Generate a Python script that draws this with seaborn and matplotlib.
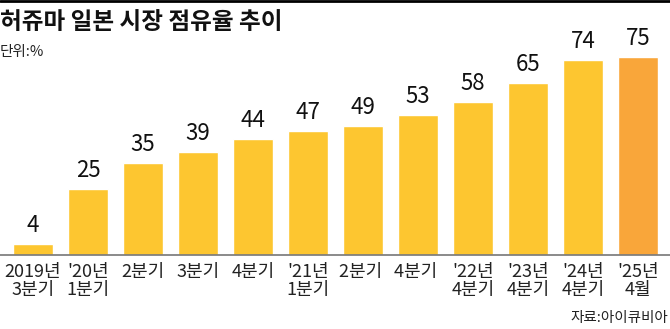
import matplotlib
matplotlib.use("Agg")
import matplotlib.pyplot as plt
import seaborn as sns
import pandas as pd
from matplotlib.lines import Line2D

categories = ["2019년\n3분기", "'20년\n1분기", "2분기", "3분기", "4분기", "'21년\n1분기",
              "2분기 ", "4분기 ", "'22년\n4분기", "'23년\n4분기", "'24년\n4분기", "'25년\n4월"]
values = [4, 25, 35, 39, 44, 47, 49, 53, 58, 65, 74, 75]
colors = ["#FDC630"] * 11 + ["#F9A63A"]

sns.set_theme(style="white")
plt.rcParams['font.family'] = ['Liberation Sans Narrow', 'Noto Sans CJK KR', 'DejaVu Sans']

df = pd.DataFrame({"cat": categories, "val": values})

fig = plt.figure(figsize=(6.7, 3.29), dpi=100)
ax = fig.add_axes([0, 74/329, 1, 1 - 74/329 - 20/329])
sns.barplot(data=df, x="cat", y="val", hue="cat", palette=colors, legend=False,
            width=0.73, ax=ax, saturation=1)
ax.set_xlim(-0.6, 11.58)
ax.set_ylim(0, 89)
for s in ["top", "right", "left"]:
    ax.spines[s].set_visible(False)
ax.spines["bottom"].set_color("#777777")
ax.spines["bottom"].set_linewidth(1.2)
ax.set_yticks([])
ax.set_xlabel("")
ax.set_ylabel("")
ax.tick_params(axis="x", length=0, pad=6, labelsize=13, colors="#222222")
for lab in ax.get_xticklabels():
    lab.set_linespacing(1.0)

for i, v in enumerate(values):
    ax.annotate(str(v), (i, v), xytext=(0, 5), textcoords="offset points",
                ha="center", va="bottom", fontsize=16, color="#111111")

fig.text(0.0, 1 - 22/329, "허쥬마 일본 시장 점유율 추이", fontsize=17, fontweight="bold",
         family=['Noto Sans CJK KR'], va="center", ha="left", color="#111111")
fig.text(0.0, 1 - 52/329, "단위:%", fontsize=10.5, family=['Noto Sans CJK KR'],
         va="center", ha="left", color="#222222")
fig.text(0.997, 1 - 318/329, "자료:아이큐비아", fontsize=10.5, family=['Noto Sans CJK KR'],
         va="center", ha="right", color="#222222")
fig.add_artist(Line2D([0, 1], [0.998, 0.998], color="black", linewidth=2, transform=fig.transFigure))

fig.savefig("out.png", dpi=100)
